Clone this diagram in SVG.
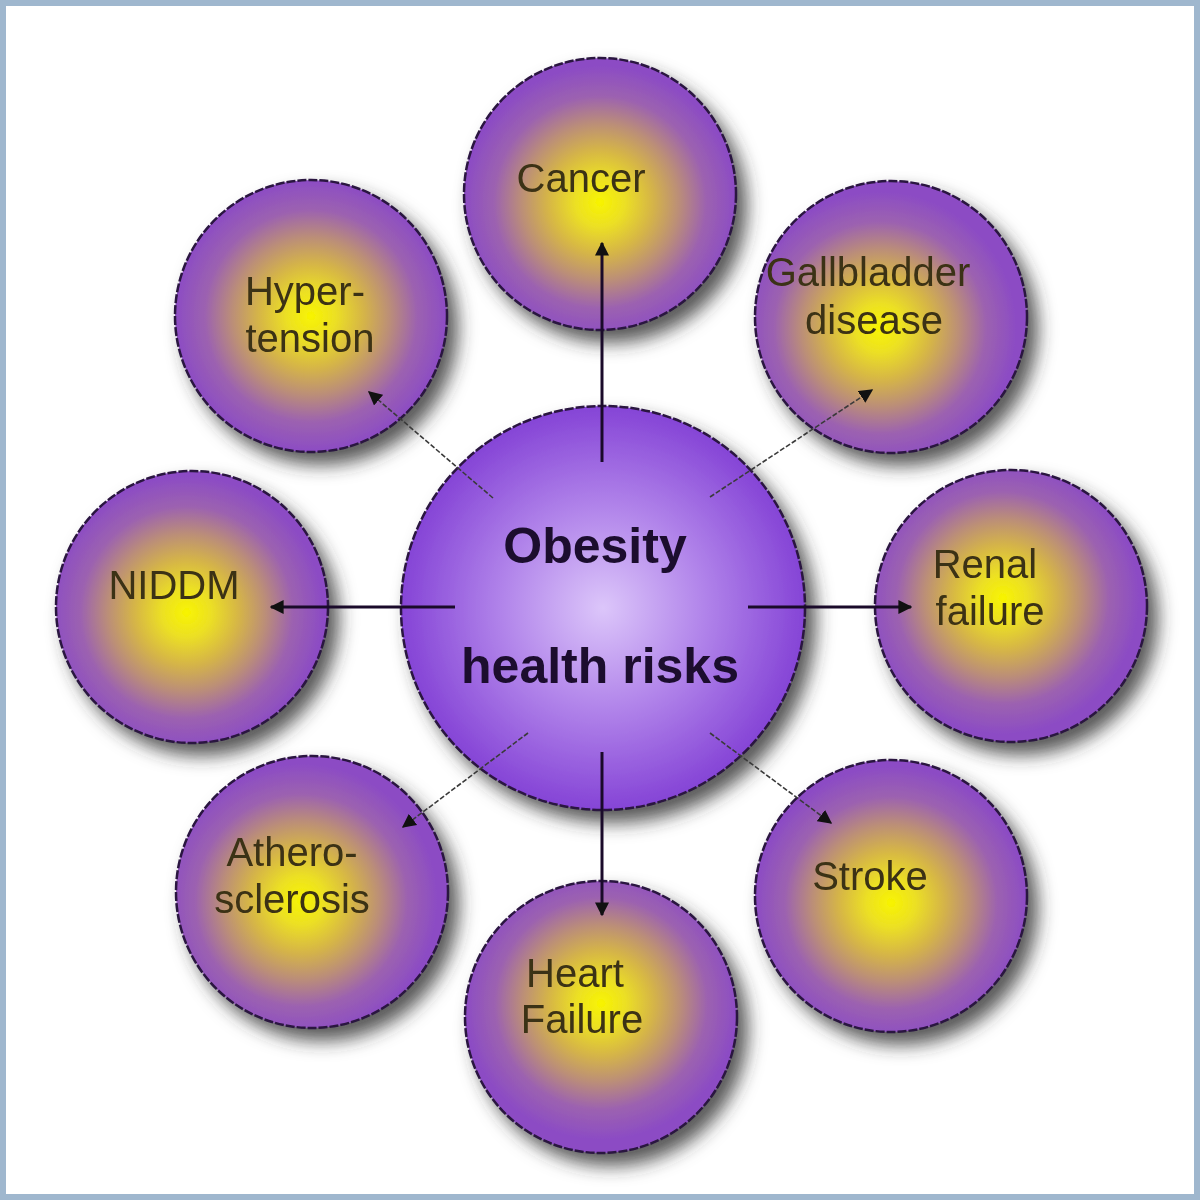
<svg xmlns="http://www.w3.org/2000/svg" xmlns:xlink="http://www.w3.org/1999/xlink" width="1200" height="1200" viewBox="0 0 1200 1200">
  <style>
    .ring { stroke: #2a1440; stroke-width: 2.5; stroke-dasharray: 9 2; }
    .lbl { font-family: "Liberation Sans", Arial, sans-serif; font-size: 40px; fill: #3b3112; text-anchor: middle; }
    .main { font-family: "Liberation Sans", Arial, sans-serif; font-size: 50px; font-weight: bold; fill: #1a0d2e; text-anchor: middle; }
    .thick { stroke: #1a0a2a; stroke-width: 3; fill: none; }
    .thin { stroke: #3a3a3a; stroke-width: 1.6; fill: none; stroke-dasharray: 5 2; }
  </style>
  <defs>
    <radialGradient id="gy" cx="50%" cy="50%" r="50%">
      <stop offset="0" stop-color="#f8f400"/>
      <stop offset="0.18" stop-color="#ece024"/>
      <stop offset="0.38" stop-color="#d6b646"/>
      <stop offset="0.58" stop-color="#bb8e78"/>
      <stop offset="0.78" stop-color="#9c62b0"/>
      <stop offset="1" stop-color="#8c4cc4"/>
    </radialGradient>
    <radialGradient id="g-cancer" href="#gy" xlink:href="#gy" cx="50%" cy="53%"/>
    <radialGradient id="g-heart" href="#gy" xlink:href="#gy" cx="50%" cy="45%"/>
    <radialGradient id="g-renal" href="#gy" xlink:href="#gy" cx="47%" cy="47%"/>
    <radialGradient id="g-niddm" href="#gy" xlink:href="#gy" cx="48%" cy="52%"/>
    <radialGradient id="g-stroke" href="#gy" xlink:href="#gy" cx="50%" cy="52.5%"/>
    <radialGradient id="g-gall" href="#gy" xlink:href="#gy" cx="46%" cy="54%"/>
    <radialGradient id="g-ath" href="#gy" xlink:href="#gy" cx="46%" cy="53%"/>
    <radialGradient id="gc" cx="50%" cy="50%" r="50%">
      <stop offset="0" stop-color="#dcc6fa"/>
      <stop offset="0.5" stop-color="#b184ea"/>
      <stop offset="1" stop-color="#8544d6"/>
    </radialGradient>
    <filter id="sh" x="-20%" y="-20%" width="150%" height="150%">
      <feDropShadow dx="10" dy="12" stdDeviation="9" flood-color="#303030" flood-opacity="0.8"/>
    </filter>
    <marker id="ah" viewBox="0 0 10 10" refX="9" refY="5" markerWidth="14" markerHeight="14" markerUnits="userSpaceOnUse" orient="auto">
      <path d="M0,0 L10,5 L0,10 z" fill="#111"/>
    </marker>
  </defs>

  <rect x="3" y="3" width="1194" height="1194" fill="#ffffff" stroke="#9fb7ce" stroke-width="6"/>

  <g id="node-cancer" filter="url(#sh)">
    <circle class="ring" cx="600" cy="194" r="136" fill="url(#g-cancer)"/>
    <text class="lbl" x="581" y="192">Cancer</text>
  </g>
  <g id="node-gallbladder" filter="url(#sh)">
    <circle class="ring" cx="891" cy="317" r="136" fill="url(#g-gall)"/>
    <text class="lbl" x="868" y="286">Gallbladder</text>
    <text class="lbl" x="874" y="334">disease</text>
  </g>
  <g id="node-renal" filter="url(#sh)">
    <circle class="ring" cx="1011" cy="606" r="136" fill="url(#g-renal)"/>
    <text class="lbl" x="985" y="578">Renal</text>
    <text class="lbl" x="990" y="625">failure</text>
  </g>
  <g id="node-stroke" filter="url(#sh)">
    <circle class="ring" cx="891" cy="896" r="136" fill="url(#g-stroke)"/>
    <text class="lbl" x="870" y="890">Stroke</text>
  </g>
  <g id="node-heart" filter="url(#sh)">
    <circle class="ring" cx="601" cy="1017" r="136" fill="url(#g-heart)"/>
    <text class="lbl" x="575" y="987">Heart</text>
    <text class="lbl" x="582" y="1033">Failure</text>
  </g>
  <g id="node-athero" filter="url(#sh)">
    <circle class="ring" cx="312" cy="892" r="136" fill="url(#g-ath)"/>
    <text class="lbl" x="292" y="866">Athero-</text>
    <text class="lbl" x="292" y="913">sclerosis</text>
  </g>
  <g id="node-niddm" filter="url(#sh)">
    <circle class="ring" cx="192" cy="607" r="136" fill="url(#g-niddm)"/>
    <text class="lbl" x="174" y="599">NIDDM</text>
  </g>
  <g id="node-hypertension" filter="url(#sh)">
    <circle class="ring" cx="311" cy="316" r="136" fill="url(#gy)"/>
    <text class="lbl" x="305" y="305">Hyper-</text>
    <text class="lbl" x="310" y="352">tension</text>
  </g>
  <g id="node-center" filter="url(#sh)">
    <circle class="ring" cx="603" cy="608" r="202" fill="url(#gc)"/>
    <text class="main" x="595" y="563">Obesity</text>
    <text class="main" x="600" y="683">health risks</text>
  </g>

  <g id="connectors">
    <line class="thick" x1="602" y1="462" x2="602" y2="243" marker-end="url(#ah)"/>
    <line class="thick" x1="602" y1="752" x2="602" y2="915" marker-end="url(#ah)"/>
    <line class="thick" x1="455" y1="607" x2="271" y2="607" marker-end="url(#ah)"/>
    <line class="thick" x1="748" y1="607" x2="911" y2="607" marker-end="url(#ah)"/>
    <line class="thin" x1="493" y1="498" x2="369" y2="392" marker-end="url(#ah)"/>
    <line class="thin" x1="710" y1="497" x2="872" y2="390" marker-end="url(#ah)"/>
    <line class="thin" x1="528" y1="733" x2="403" y2="827" marker-end="url(#ah)"/>
    <line class="thin" x1="710" y1="733" x2="831" y2="823" marker-end="url(#ah)"/>
  </g>
</svg>
